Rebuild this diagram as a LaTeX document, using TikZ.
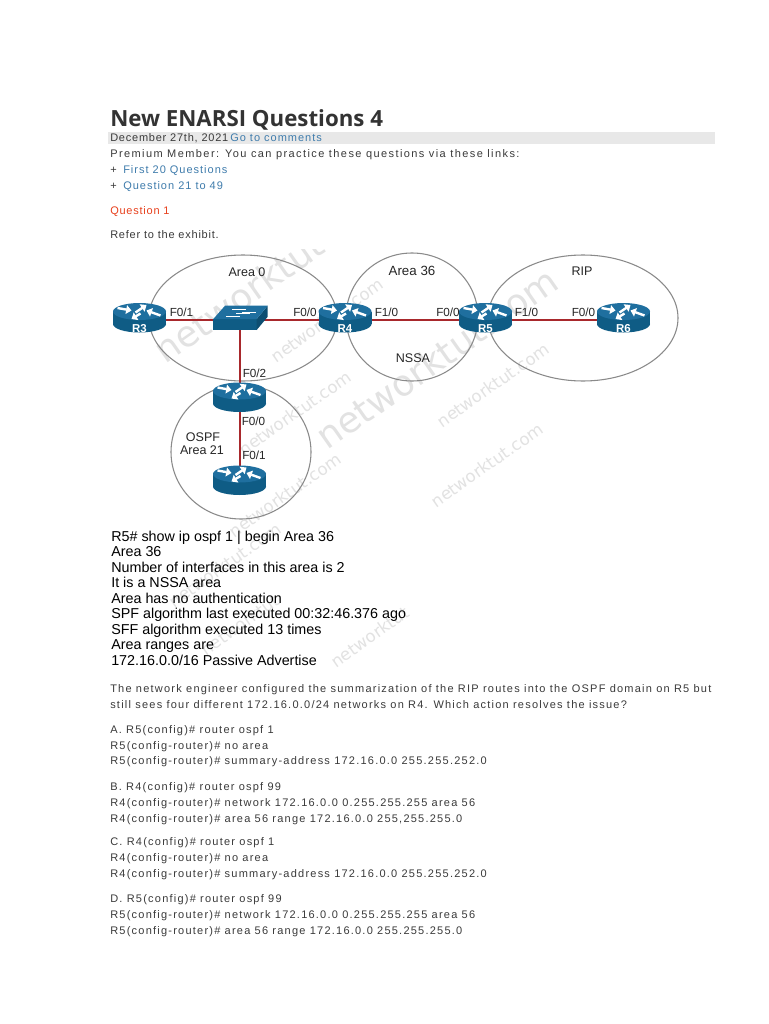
\documentclass[tikz,border=0pt]{standalone}
\usepackage{fontspec}
\usetikzlibrary{arrows.meta}
\setmainfont{Liberation Sans}
\newfontfamily\bodyf[LetterSpace=11.2]{Liberation Sans}
\newfontfamily\premf[LetterSpace=12.9]{Liberation Sans}
\newfontfamily\headf[LetterSpace=7]{Liberation Sans}
\newfontfamily\linkf[LetterSpace=9]{Liberation Sans}
\newfontfamily\titlef{Open Sans}
\newfontfamily\wmf{DejaVu Sans}
\definecolor{linkblue}{HTML}{3F7CAC}
\definecolor{bodygray}{HTML}{3A3A3A}
\definecolor{redq}{HTML}{E8401C}
\definecolor{wire}{HTML}{A8282C}
\definecolor{rtop}{HTML}{1F6F9F}
\definecolor{rside}{HTML}{0F5C85}
\definecolor{wm}{HTML}{E2E2E2}
\definecolor{ringc}{HTML}{8A8A8A}
\tikzset{
  txt/.style={anchor=base west,inner sep=0pt,font=\bodyf\fontsize{8.25pt}{10pt}\selectfont,text=bodygray},
  headtxt/.style={txt,font=\headf\fontsize{8.25pt}{10pt}\selectfont},
  premtxt/.style={txt,font=\premf\fontsize{8.25pt}{10pt}\selectfont},
  lnk/.style={txt,text=linkblue,font=\linkf\fontsize{8.25pt}{10pt}\selectfont},
  dia/.style={anchor=base,inner sep=0pt,font=\fontsize{9.4pt}{11pt}\selectfont,text=black!85},
  port/.style={anchor=base,inner sep=0pt,font=\fontsize{8.8pt}{11pt}\selectfont,text=black!85},
  cli/.style={anchor=base west,inner sep=0pt,font=\fontsize{10.75pt}{12pt}\selectfont,text=black},
  ring/.style={draw=ringc,line width=0.8pt,fill=none},
  wire/.style={draw=wire,line width=1.5pt},
  hub/.style={inner sep=0pt,minimum width=10pt,minimum height=10pt},
  wmbig/.style={rotate=35,inner sep=0pt,text=wm,font=\wmf\fontsize{27pt}{27pt}\selectfont},
  wmsmall/.style={rotate=35,inner sep=0pt,text=wm,font=\wmf\fontsize{12.5pt}{13pt}\selectfont},
  rname/.style={anchor=base,inner sep=0pt,text=white,font=\bfseries\fontsize{8.6pt}{9pt}\selectfont},
  arr/.style={draw=white,line width=1.8pt,-{Triangle[length=4pt,width=6.5pt]}},
  router/.pic={
    \fill[rside] (-26.5,-6) rectangle (26.5,6.5);
    \fill[rside] (0,6.5) ellipse[x radius=26.5,y radius=8.5];
    \fill[rtop] (0,-6) ellipse[x radius=26.5,y radius=8.5];
    \draw[arr] (-22,-9.5) -- (-8,-7);
    \draw[arr] (-4,-5) -- (7,-12.5);
    \draw[arr] (1,-4) -- (-8,1.5);
    \draw[arr] (21,-2) -- (7,-7);
  }
}
\begin{document}
\begin{tikzpicture}[x=0.75pt,y=-0.75pt]
\useasboundingbox (0,0) rectangle (768,1024);
\fill[white] (0,0) rectangle (768,1024);
% watermarks
\begin{scope}
\clip (105,249) rectangle (705,680);
\node[wmbig] (w1) at (275,272) {networktut.com};
\node[wmbig] (w2) at (437,358) {networktut.com};
\node[wmsmall] (w3) at (327,320) {networktut.com};
\node[wmsmall] (w4) at (493,385) {networktut.com};
\node[wmsmall] (w5) at (487,465) {networktut.com};
\node[wmsmall] (w6) at (295,413) {networktut.com};
\node[wmsmall] (w7) at (285,495) {networktut.com};
\node[wmsmall] (w8) at (225,565) {networktut.com};
\node[wmsmall] (w9) at (370,637) {networktut};
\node[wmsmall] (w10) at (240,625) {networktut};
\end{scope}
% header
\fill[black!9] (108,132) rectangle (715,144);
\node[anchor=base west,inner sep=0pt,text=black!80,font=\titlef\bfseries\fontsize{16.7pt}{20pt}\selectfont] (title) at (110,126) {New ENARSI Questions 4};
\node[headtxt] (date) at (110,142) {December 27th, 2021};
\node[lnk] (comments) at (230,142) {Go to comments};
\node[premtxt] (prem) at (110,157) {Premium Member: You can practice these questions via these links:};
\node[headtxt] (p1) at (110,173) {+};
\node[lnk] (l1) at (123,173) {First 20 Questions};
\node[headtxt] (p2) at (110,189) {+};
\node[lnk] (l2) at (123,189) {Question 21 to 49};
\node[headtxt,text=redq] (q1) at (110,214) {Question 1};
\node[headtxt] (refer) at (110,238) {Refer to the exhibit.};
% area rings
\draw[ring] (243,318) ellipse[x radius=94,y radius=63];
\draw[ring] (412,317) ellipse[x radius=66,y radius=64];
\draw[ring] (583,318) ellipse[x radius=95,y radius=63];
\draw[ring] (241,452) ellipse[x radius=70,y radius=67];
% device anchors
\node[hub] (r3) at (139.5,320) {};
\node[hub] (sw) at (239.5,320) {};
\node[hub] (r4) at (345,320) {};
\node[hub] (r5) at (485.5,320) {};
\node[hub] (r6) at (623.5,320) {};
\node[hub] (ra) at (239.5,397) {};
\node[hub] (rb) at (239.5,480) {};
% links
\draw[wire] (r3) -- (sw);
\draw[wire] (sw) -- (r4);
\draw[wire] (r4) -- (r5);
\draw[wire] (r5) -- (r6);
\draw[wire] (sw) -- (ra);
\draw[wire] (ra) -- (rb);
% routers
\pic at (139.5,317.5) {router};
\pic at (345,317.5) {router};
\pic at (485.5,317.5) {router};
\pic at (623.5,317.5) {router};
\pic at (239.5,397) {router};
\pic at (239.5,480) {router};
\node[rname] (n3) at (139.5,332) {R3};
\node[rname] (n4) at (345,332) {R4};
\node[rname] (n5) at (485.5,332) {R5};
\node[rname] (n6) at (623.5,332) {R6};
% switch
\fill[rside] (213.3,319) rectangle (256.7,330);
\fill[rside!85!black] (256.7,319) -- (267.7,305.7) -- (267.7,316.7) -- (256.7,330) -- cycle;
\fill[rtop] (213.3,319) -- (225,305.7) -- (267.7,305.7) -- (256.7,319) -- cycle;
\draw[white,line width=0.6pt] (226,316) -- (240,316) (236,313) -- (250,313) (232,309.5) -- (246,309.5) (242,312) -- (256,312);
% diagram labels
\node[dia] (a0) at (247,276) {Area 0};
\node[dia,font=\fontsize{10pt}{11pt}\selectfont] (a36) at (412,275) {Area 36};
\node[dia] (rip) at (582,275) {RIP};
\node[dia] (nssa) at (413,362) {NSSA};
\node[dia] (ospf) at (203,441) {OSPF};
\node[dia] (a21) at (202,454) {Area 21};
\node[port] (f1) at (181.5,316) {F0/1};
\node[port] (f2) at (305,316) {F0/0};
\node[port] (f3) at (386.5,316) {F1/0};
\node[port] (f4) at (448,316) {F0/0};
\node[port] (f5) at (526.5,316) {F1/0};
\node[port] (f6) at (583.5,316) {F0/0};
\node[port] (f7) at (254.5,377) {F0/2};
\node[port] (f8) at (253.5,425) {F0/0};
\node[port] (f9) at (254,459) {F0/1};
% CLI
\node[cli] (c1) at (111,541) {R5\# show ip ospf 1 | begin Area 36};
\node[cli] (c2) at (111,556) {Area 36};
\node[cli] (c3) at (111,572) {Number of interfaces in this area is 2};
\node[cli] (c4) at (111,587) {It is a NSSA area};
\node[cli] (c5) at (111,603) {Area has no authentication};
\node[cli] (c6) at (111,618) {SPF algorithm last executed 00:32:46.376 ago};
\node[cli] (c7) at (111,634) {SFF algorithm executed 13 times};
\node[cli] (c8) at (111,649) {Area ranges are};
\node[cli] (c9) at (111,665) {172.16.0.0/16 Passive Advertise};
% body
\node[txt] (b1) at (110,692) {The network engineer configured the summarization of the RIP routes into the OSPF domain on R5 but};
\node[txt] (b2) at (110,708) {still sees four different 172.16.0.0/24 networks on R4. Which action resolves the issue?};
\node[txt] (a1) at (110,733) {A. R5(config)\# router ospf 1};
\node[txt] (a2) at (110,749) {R5(config-router)\# no area};
\node[txt] (a3) at (110,764) {R5(config-router)\# summary-address 172.16.0.0 255.255.252.0};
\node[txt] (b3) at (110,790) {B. R4(config)\# router ospf 99};
\node[txt] (b4) at (110,806) {R4(config-router)\# network 172.16.0.0 0.255.255.255 area 56};
\node[txt] (b5) at (110,822) {R4(config-router)\# area 56 range 172.16.0.0 255,255.255.0};
\node[txt] (c1b) at (110,845) {C. R4(config)\# router ospf 1};
\node[txt] (c2b) at (110,861) {R4(config-router)\# no area};
\node[txt] (c3b) at (110,877) {R4(config-router)\# summary-address 172.16.0.0 255.255.252.0};
\node[txt] (d1) at (110,902) {D. R5(config)\# router ospf 99};
\node[txt] (d2) at (110,918) {R5(config-router)\# network 172.16.0.0 0.255.255.255 area 56};
\node[txt] (d3) at (110,934) {R5(config-router)\# area 56 range 172.16.0.0 255.255.255.0};
\end{tikzpicture}
\end{document}
